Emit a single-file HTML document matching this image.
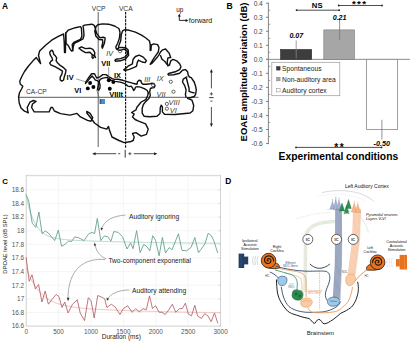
<!DOCTYPE html><html><head><meta charset="utf-8"><style>html,body{margin:0;padding:0;background:#fff;}svg{display:block;}text{font-family:"Liberation Sans", sans-serif;}</style></head><body>
<svg width="410" height="343" viewBox="0 0 410 343">
<rect width="410" height="343" fill="#fff"/>
<text x="2.0" y="8.8" font-size="8.4" fill="#000" font-weight="bold" text-anchor="start" font-style="normal" >A</text>
<line x1="98.2" y1="12" x2="98.2" y2="147" stroke="#555" stroke-width="0.95"/>
<line x1="125.6" y1="12" x2="125.6" y2="148" stroke="#111" stroke-width="1.15" stroke-dasharray="2.6,1.0"/>
<text x="98.6" y="10.6" font-size="6.7" fill="#333" font-weight="normal" text-anchor="middle" font-style="normal" >VCP</text>
<text x="125.8" y="10.6" font-size="6.7" fill="#333" font-weight="normal" text-anchor="middle" font-style="normal" >VCA</text>
<line x1="18.5" y1="97.3" x2="198.5" y2="97.3" stroke="#555" stroke-width="0.95"/>
<text x="26.0" y="94.4" font-size="6.7" fill="#333" font-weight="normal" text-anchor="start" font-style="normal" >CA-CP</text>
<polyline points="28.1,112.7 24.5,111.2 21.0,108.0 19.2,103.0 18.6,97.0 19.4,93.0 21.8,88.5 22.8,86.2 20.2,84.0 19.8,81.0 21.8,76.5 24.5,71.5 28.5,66.0 33.2,60.6 36.3,57.6 40.6,63.6 38.5,55.5 39.6,51.0 45.6,45.2 51.7,40.2 58.3,36.3 63.6,34.0 64.2,42.0 64.5,52.5 65.4,52.5 65.6,42.0 65.8,33.0 68.2,30.2 75.3,27.7 80.4,26.6 81.4,28.2 81.9,36.3 80.4,39.4 73.8,42.4 72.2,44.5 72.8,50.6 73.3,46.5 74.3,43.5 79.4,40.9 83.0,38.9 84.0,35.3 83.5,29.0 83.0,26.1 84.5,25.1 91.8,24.2 94.3,25.4 95.4,29.0 96.8,33.6 99.9,37.7 103.6,37.2 105.2,38.2 104.4,43.2 102.4,48.2 101.8,46.5 102.8,42.5 102.5,39.7 99.0,39.5 95.8,36.0 94.8,31.0 96.2,26.2 97.8,24.8 102.4,23.9 108.5,24.2 114.6,26.0 118.9,28.5 120.0,32.3 119.4,38.3 117.7,43.2 115.8,46.9 116.4,48.7 118.3,48.7 118.9,45.6 120.7,40.7 121.3,34.6 122.6,30.9 125.0,29.7 129.3,30.3 135.4,32.2 141.6,35.2 145.9,38.0 149.5,41.0 150.2,44.6 150.2,50.5 151.0,50.2 151.3,45.0 153.9,43.9 157.6,44.6 159.0,47.6 158.3,52.0 154.6,57.1 151.0,62.9 150.2,64.4 152.4,62.9 156.8,57.8 159.0,54.9 160.5,52.0 162.7,49.8 165.6,49.0 169.3,53.4 170.7,57.5 167.9,57.9 167.2,62.3 167.9,65.9 169.4,65.2 170.8,60.8 173.0,59.4 176.7,60.8 179.6,63.7 181.0,66.7 179.6,69.6 175.2,71.8 169.4,73.2 167.9,74.0 168.6,75.1 173.7,74.7 179.6,73.2 182.5,70.3 185.4,69.6 187.6,71.8 188.3,75.4 189.5,77.0 191.2,77.6 194.2,82.0 195.6,86.3 196.3,90.0 195.6,94.4 194.2,96.5 191.0,97.5 187.6,98.1" fill="none" stroke="#111" stroke-width="1.4" stroke-linejoin="round" stroke-linecap="round"/>
<polyline points="65.6,33.0 66.1,43.5 68.2,45.5 70.2,49.2 71.6,51.0 72.8,50.6" fill="none" stroke="#111" stroke-width="1.4" stroke-linejoin="round" stroke-linecap="round"/>
<polyline points="186.9,76.9 183.2,79.1 182.5,82.0 184.7,85.6 186.1,90.0 185.4,94.4 186.1,97.3" fill="none" stroke="#111" stroke-width="1.4" stroke-linejoin="round" stroke-linecap="round"/>
<polyline points="186.5,78.5 187.6,82.7 189.1,88.5 189.1,91.4 191.2,92.2 194.2,92.9" fill="none" stroke="#111" stroke-width="1.4" stroke-linejoin="round" stroke-linecap="round"/>
<polyline points="187.6,98.3 192.0,100.2 193.7,105.5 192.9,110.7 190.2,113.0 175.0,114.5 164.5,114.2 162.4,111.9 162.4,107.0 161.2,105.2 160.3,107.5 160.0,113.5 157.0,116.2 149.5,116.8 144.0,116.2 142.2,113.1 142.2,108.2 143.4,104.5 145.8,101.4 148.9,98.4 150.3,95.5 149.7,91.5 150.2,89.1 151.2,88.1" fill="none" stroke="#111" stroke-width="1.4" stroke-linejoin="round" stroke-linecap="round"/>
<polyline points="28.1,112.7 27.2,107.5 29.9,102.2 33.4,100.5 36.0,101.4 32.5,104.0 31.6,107.5 34.2,111.9 49.1,111.9 50.9,107.5 52.5,107.5 54.4,111.0 60.5,113.6 70.0,115.1 77.0,113.4 80.5,116.9 87.5,120.4 91.0,121.2 92.7,117.7 90.1,113.4 86.8,111.4 86.8,113.0 90.5,117.5 94.5,123.0 100.6,127.4 106.7,129.1 108.5,126.5 109.4,130.0 112.0,137.0 119.0,140.5 124.2,142.6 130.0,141.8 133.2,140.5 134.2,137.0 132.5,133.5 136.0,132.6 141.2,136.1 146.5,134.4 148.2,129.1 145.6,123.9 138.6,121.2 135.1,119.5 132.5,116.9 134.2,114.2 131.6,112.5 136.0,109.9 136.9,107.2 141.2,102.0 145.8,99.6 147.5,96.0 148.3,93.0" fill="none" stroke="#111" stroke-width="1.4" stroke-linejoin="round" stroke-linecap="round"/>
<polyline points="85.6,82.3 89.0,77.2 91.6,73.8 94.5,73.8 96.7,78.0 99.3,77.2 102.7,74.6 106.1,74.6 109.5,77.2 112.2,78.7 114.9,79.4 118.0,79.3 122.9,80.3 127.8,81.8 132.6,83.2 137.0,84.2 137.5,81.8 139.0,80.3 140.9,80.8 141.4,82.7 142.9,84.2 146.3,84.2 150.2,83.7 152.1,83.2 154.1,83.7 155.1,85.7 154.1,87.6 151.2,88.1" fill="none" stroke="#111" stroke-width="1.4" stroke-linejoin="round" stroke-linecap="round"/>
<polyline points="85.4,83.4 87.4,81.4 90.1,78.1 92.1,76.0 93.4,77.4 95.4,80.1 97.4,80.7 99.5,82.8 100.1,85.4 99.9,88.1 98.8,90.1 97.4,89.5 98.1,86.8 98.5,83.5 100.1,79.4 102.8,78.1 106.8,77.4 108.8,78.7 110.9,80.1 114.9,81.4 120.2,82.1 121.9,82.7 125.8,84.2 127.8,86.1 129.7,86.6 131.2,86.1 132.6,88.1 133.6,90.5 134.6,89.6 135.6,87.1 137.5,86.6 140.4,87.1 144.3,88.6 147.3,90.5 148.3,93.0" fill="none" stroke="#111" stroke-width="1.4" stroke-linejoin="round" stroke-linecap="round"/>
<polyline points="50.2,51.4 52.0,50.2 53.2,52.0 53.7,54.3 55.5,56.1 56.7,57.8 56.1,60.7 57.2,62.5 60.2,65.4 63.6,67.7 66.0,70.1 65.4,73.6 64.2,77.1 63.6,80.0 61.9,81.1 60.2,80.0 60.2,77.1 61.9,74.1 62.5,71.2 59.0,68.9 54.9,66.6 50.8,64.8 49.7,63.1 50.8,61.3 52.6,60.2 52.0,57.8 50.2,54.9 49.7,52.6 50.2,51.4" fill="none" stroke="#111" stroke-width="1.4" stroke-linejoin="round" stroke-linecap="round"/>
<polyline points="79.0,48.2 81.5,46.8 85.5,48.6 89.9,48.2 92.9,49.4 94.8,52.7 94.4,56.3 92.9,58.4 92.0,57.4 92.3,54.8 91.2,53.4 89.9,52.2 85.5,52.6 82.0,50.6 79.0,48.2" fill="none" stroke="#111" stroke-width="1.4" stroke-linejoin="round" stroke-linecap="round"/>
<polyline points="92.4,55.0 94.5,55.5 95.5,57.5" fill="none" stroke="#111" stroke-width="1.4" stroke-linejoin="round" stroke-linecap="round"/>
<polyline points="116.4,48.7 118.0,50.0 120.4,50.4 124.0,49.2 126.8,50.8 127.4,54.2 125.2,56.8 120.4,58.6 116.0,59.3 114.8,60.2 115.6,61.3 120.4,60.8 125.4,59.0 128.6,55.4 128.2,50.0 125.5,47.6 121.5,47.4 119.0,47.6" fill="none" stroke="#111" stroke-width="1.4" stroke-linejoin="round" stroke-linecap="round"/>
<polyline points="123.8,69.9 128.1,66.2 132.4,63.8 133.0,59.5 135.4,56.5 139.1,55.2 143.3,57.1 146.4,60.7 145.2,62.6 142.1,62.0 138.5,60.1 137.2,62.6 136.6,66.2 134.2,67.4 129.3,69.3 125.0,70.5 123.8,69.9" fill="none" stroke="#111" stroke-width="1.4" stroke-linejoin="round" stroke-linecap="round"/>
<polyline points="160.5,55.6 162.0,59.3 164.9,61.5 166.4,63.7 167.8,65.1" fill="none" stroke="#111" stroke-width="1.4" stroke-linejoin="round" stroke-linecap="round"/>
<text x="66.6" y="79.9" font-size="7.4" fill="#000" font-weight="bold" text-anchor="start" font-style="normal" >IV</text>
<text x="101.3" y="65.8" font-size="7.4" fill="#000" font-weight="bold" text-anchor="start" font-style="normal" >VII</text>
<text x="113.9" y="77.6" font-size="7.4" fill="#000" font-weight="bold" text-anchor="start" font-style="normal" >IX</text>
<text x="74.3" y="92.8" font-size="7.4" fill="#000" font-weight="bold" text-anchor="start" font-style="normal" >VI</text>
<text x="109.2" y="96.9" font-size="7.6" fill="#000" font-weight="bold" text-anchor="start" font-style="normal" >VIIIt</text>
<text x="99.2" y="103.9" font-size="6.8" fill="#000" font-weight="bold" text-anchor="start" font-style="normal" >III</text>
<line x1="76.2" y1="78.9" x2="85.6" y2="81.8" stroke="#555" stroke-width="0.6"/>
<line x1="108.7" y1="67.2" x2="108.7" y2="79" stroke="#555" stroke-width="0.6"/>
<line x1="96.7" y1="90" x2="99.3" y2="98.3" stroke="#555" stroke-width="0.6"/>
<circle cx="90.1" cy="83" r="1.95" fill="#000"/>
<circle cx="87.8" cy="88.4" r="1.95" fill="#000"/>
<circle cx="93.4" cy="87" r="1.95" fill="#000"/>
<circle cx="108.8" cy="80.3" r="1.95" fill="#000"/>
<circle cx="113.3" cy="82.1" r="1.95" fill="#000"/>
<circle cx="109.8" cy="88.8" r="1.95" fill="#000"/>
<text x="106.3" y="55.6" font-size="7.3" fill="#3a3a3a" font-weight="normal" text-anchor="start" font-style="italic" >IV</text>
<text x="144.2" y="81.8" font-size="7.4" fill="#3a3a3a" font-weight="normal" text-anchor="start" font-style="italic" >III</text>
<text x="156.8" y="80.5" font-size="7.4" fill="#3a3a3a" font-weight="normal" text-anchor="start" font-style="italic" >IX</text>
<text x="156.6" y="96.9" font-size="7.4" fill="#3a3a3a" font-weight="normal" text-anchor="start" font-style="italic" >VII</text>
<text x="168.6" y="105.2" font-size="7.4" fill="#3a3a3a" font-weight="normal" text-anchor="start" font-style="italic" >VIII</text>
<text x="169.8" y="113.3" font-size="7.4" fill="#3a3a3a" font-weight="normal" text-anchor="start" font-style="italic" >VI</text>
<circle cx="120.1" cy="51.2" r="1.6" fill="none" stroke="#444" stroke-width="0.8"/>
<circle cx="153.1" cy="85.1" r="1.6" fill="none" stroke="#444" stroke-width="0.8"/>
<circle cx="170.8" cy="81.8" r="1.6" fill="none" stroke="#444" stroke-width="0.8"/>
<circle cx="173.5" cy="91.7" r="1.6" fill="none" stroke="#444" stroke-width="0.8"/>
<circle cx="166.9" cy="103.9" r="1.6" fill="none" stroke="#444" stroke-width="0.8"/>
<circle cx="166.9" cy="108.7" r="1.6" fill="none" stroke="#444" stroke-width="0.8"/>
<line x1="93.5" y1="153.7" x2="116.2" y2="153.7" stroke="#222" stroke-width="0.8"/>
<path d="M92.2,153.7 L95.6,152.2 L95.6,155.2 Z" fill="#222"/>
<line x1="118.2" y1="153.7" x2="120.2" y2="153.7" stroke="#222" stroke-width="0.8"/>
<line x1="125.2" y1="149.8" x2="125.2" y2="157.6" stroke="#222" stroke-width="0.9"/>
<line x1="128.3" y1="153.7" x2="131.5" y2="153.7" stroke="#222" stroke-width="0.7"/>
<line x1="129.9" y1="152.1" x2="129.9" y2="155.3" stroke="#222" stroke-width="0.7"/>
<line x1="133.8" y1="153.7" x2="156" y2="153.7" stroke="#222" stroke-width="0.8"/>
<path d="M157.4,153.7 L154,152.2 L154,155.2 Z" fill="#222"/>
<line x1="211.4" y1="70.5" x2="211.4" y2="88.4" stroke="#222" stroke-width="0.8"/>
<path d="M211.4,69 L209.9,72.4 L212.9,72.4 Z" fill="#222"/>
<line x1="209.8" y1="93.9" x2="213" y2="93.9" stroke="#222" stroke-width="0.7"/>
<line x1="211.4" y1="92.3" x2="211.4" y2="95.5" stroke="#222" stroke-width="0.7"/>
<line x1="209.2" y1="97.6" x2="213.6" y2="97.6" stroke="#222" stroke-width="0.9"/>
<line x1="210.2" y1="101.1" x2="212.6" y2="101.1" stroke="#222" stroke-width="0.7"/>
<line x1="211.4" y1="107" x2="211.4" y2="125.5" stroke="#222" stroke-width="0.8"/>
<path d="M211.4,127 L209.9,123.6 L212.9,123.6 Z" fill="#222"/>
<text x="176.3" y="11.8" font-size="6.4" fill="#111" font-weight="normal" text-anchor="start" font-style="normal" >up</text>
<polyline points="179.3,15.8 179.3,20.4 186.6,20.4" fill="none" stroke="#111" stroke-width="0.9"/>
<path d="M179.3,13.8 L177.8,16.6 L180.8,16.6 Z" fill="#111"/>
<path d="M188.4,20.4 L185.6,18.9 L185.6,21.9 Z" fill="#111"/>
<text x="188.8" y="23.0" font-size="7.0" fill="#111" font-weight="normal" text-anchor="start" font-style="normal" >forward</text>
<text x="226.6" y="8.9" font-size="8.6" fill="#000" font-weight="bold" text-anchor="start" font-style="normal" >B</text>
<line x1="268.4" y1="2.629999999999997" x2="268.4" y2="144.13" stroke="#666" stroke-width="0.8"/>
<line x1="266.0" y1="143.53" x2="268.4" y2="143.53" stroke="#666" stroke-width="0.8"/>
<line x1="268.4" y1="136.51" x2="270.29999999999995" y2="136.51" stroke="#777" stroke-width="0.7"/>
<text x="262.8" y="145.88" font-size="6.6" fill="#444" font-weight="normal" text-anchor="end" font-style="normal" >-0.6</text>
<line x1="266.0" y1="129.50" x2="268.4" y2="129.50" stroke="#666" stroke-width="0.8"/>
<line x1="268.4" y1="122.49" x2="270.29999999999995" y2="122.49" stroke="#777" stroke-width="0.7"/>
<text x="262.8" y="131.85" font-size="6.6" fill="#444" font-weight="normal" text-anchor="end" font-style="normal" >-0.5</text>
<line x1="266.0" y1="115.47" x2="268.4" y2="115.47" stroke="#666" stroke-width="0.8"/>
<line x1="268.4" y1="108.46" x2="270.29999999999995" y2="108.46" stroke="#777" stroke-width="0.7"/>
<text x="262.8" y="117.82" font-size="6.6" fill="#444" font-weight="normal" text-anchor="end" font-style="normal" >-0.4</text>
<line x1="266.0" y1="101.44" x2="268.4" y2="101.44" stroke="#666" stroke-width="0.8"/>
<line x1="268.4" y1="94.43" x2="270.29999999999995" y2="94.43" stroke="#777" stroke-width="0.7"/>
<text x="262.8" y="103.78999999999999" font-size="6.6" fill="#444" font-weight="normal" text-anchor="end" font-style="normal" >-0.3</text>
<line x1="266.0" y1="87.41" x2="268.4" y2="87.41" stroke="#666" stroke-width="0.8"/>
<line x1="268.4" y1="80.40" x2="270.29999999999995" y2="80.40" stroke="#777" stroke-width="0.7"/>
<text x="262.8" y="89.75999999999999" font-size="6.6" fill="#444" font-weight="normal" text-anchor="end" font-style="normal" >-0.2</text>
<line x1="266.0" y1="73.38" x2="268.4" y2="73.38" stroke="#666" stroke-width="0.8"/>
<line x1="268.4" y1="66.37" x2="270.29999999999995" y2="66.37" stroke="#777" stroke-width="0.7"/>
<text x="262.8" y="75.72999999999999" font-size="6.6" fill="#444" font-weight="normal" text-anchor="end" font-style="normal" >-0.1</text>
<line x1="266.0" y1="59.35" x2="268.4" y2="59.35" stroke="#666" stroke-width="0.8"/>
<line x1="268.4" y1="52.34" x2="270.29999999999995" y2="52.34" stroke="#777" stroke-width="0.7"/>
<text x="262.8" y="61.7" font-size="6.6" fill="#444" font-weight="normal" text-anchor="end" font-style="normal" >0.0</text>
<line x1="266.0" y1="45.32" x2="268.4" y2="45.32" stroke="#666" stroke-width="0.8"/>
<line x1="268.4" y1="38.30" x2="270.29999999999995" y2="38.30" stroke="#777" stroke-width="0.7"/>
<text x="262.8" y="47.67" font-size="6.6" fill="#444" font-weight="normal" text-anchor="end" font-style="normal" >0.1</text>
<line x1="266.0" y1="31.29" x2="268.4" y2="31.29" stroke="#666" stroke-width="0.8"/>
<line x1="268.4" y1="24.27" x2="270.29999999999995" y2="24.27" stroke="#777" stroke-width="0.7"/>
<text x="262.8" y="33.64" font-size="6.6" fill="#444" font-weight="normal" text-anchor="end" font-style="normal" >0.2</text>
<line x1="266.0" y1="17.26" x2="268.4" y2="17.26" stroke="#666" stroke-width="0.8"/>
<line x1="268.4" y1="10.24" x2="270.29999999999995" y2="10.24" stroke="#777" stroke-width="0.7"/>
<text x="262.8" y="19.61" font-size="6.6" fill="#444" font-weight="normal" text-anchor="end" font-style="normal" >0.3</text>
<line x1="266.0" y1="3.23" x2="268.4" y2="3.23" stroke="#666" stroke-width="0.8"/>
<text x="262.8" y="5.5799999999999965" font-size="6.6" fill="#444" font-weight="normal" text-anchor="end" font-style="normal" >0.4</text>
<line x1="266.0" y1="59.35" x2="410" y2="59.35" stroke="#808080" stroke-width="0.9"/>
<rect x="280.6" y="49.53" width="31" height="9.82" fill="#3d3d3d" stroke="#222" stroke-width="0.6"/>
<rect x="323.8" y="29.89" width="30.7" height="29.46" fill="#a6a6a6" stroke="#7a7a7a" stroke-width="0.6"/>
<rect x="366.6" y="59.35" width="31" height="70.15" fill="#fff" stroke="#888" stroke-width="0.8"/>
<line x1="296.2" y1="40.5" x2="296.2" y2="58.5" stroke="#888" stroke-width="0.8"/>
<line x1="339.6" y1="19.6" x2="339.6" y2="39.9" stroke="#777" stroke-width="0.8"/>
<line x1="381.9" y1="119.8" x2="381.9" y2="139.5" stroke="#777" stroke-width="0.8"/>
<text x="296.3" y="38.2" font-size="7.1" fill="#000" font-weight="bold" text-anchor="middle" font-style="italic" >0.07</text>
<text x="339.6" y="19.6" font-size="7.1" fill="#000" font-weight="bold" text-anchor="middle" font-style="italic" >0.21</text>
<text x="381.8" y="145.8" font-size="7.2" fill="#000" font-weight="bold" text-anchor="middle" font-style="italic" >-0.50</text>
<rect x="271.8" y="62.3" width="68" height="33.4" fill="#fff" stroke="#999" stroke-width="0.7"/>
<rect x="276.5" y="66.5" width="3.6" height="3.6" fill="#3d3d3d" stroke="#222" stroke-width="0.4"/>
<rect x="276.5" y="77.3" width="3.6" height="3.6" fill="#a6a6a6" stroke="#777" stroke-width="0.4"/>
<rect x="276.5" y="88.3" width="3.6" height="3.6" fill="#fff" stroke="#888" stroke-width="0.5"/>
<text x="282.1" y="70.9" font-size="6.7" fill="#222" font-weight="normal" text-anchor="start" font-style="normal" >Spontaneous</text>
<text x="282.1" y="81.6" font-size="6.7" fill="#222" font-weight="normal" text-anchor="start" font-style="normal" >Non-auditory area</text>
<text x="282.1" y="92.6" font-size="6.7" fill="#222" font-weight="normal" text-anchor="start" font-style="normal" >Auditory cortex</text>
<line x1="296.6" y1="10.2" x2="339.2" y2="10.2" stroke="#222" stroke-width="0.8"/>
<circle cx="296.6" cy="10.2" r="0.9" fill="#222"/>
<circle cx="339.2" cy="10.2" r="0.9" fill="#222"/>
<text x="317.2" y="7.6" font-size="7.7" fill="#000" font-weight="bold" text-anchor="middle" font-style="normal" >NS</text>
<line x1="338.7" y1="5.5" x2="382" y2="5.5" stroke="#222" stroke-width="0.8"/>
<circle cx="338.7" cy="5.5" r="0.9" fill="#222"/>
<circle cx="382" cy="5.5" r="0.9" fill="#222"/>
<text x="352.0" y="7.2" font-size="9.7" fill="#000" font-weight="bold" text-anchor="start" font-style="normal" letter-spacing="1.3">***</text>
<line x1="296" y1="147.4" x2="381.5" y2="147.4" stroke="#222" stroke-width="0.8"/>
<circle cx="296" cy="147.4" r="0.9" fill="#222"/>
<circle cx="381.5" cy="147.4" r="0.9" fill="#222"/>
<text x="334.3" y="150.6" font-size="10.2" fill="#000" font-weight="bold" text-anchor="start" font-style="normal" letter-spacing="1.4">**</text>
<text x="0" y="0" font-size="9.55" font-weight="bold" fill="#000" text-anchor="middle" transform="translate(247.1,72) rotate(-90)">EOAE amplitude variation (dB)</text>
<text x="338.4" y="160.3" font-size="10.3" fill="#000" font-weight="bold" text-anchor="middle" font-style="normal" >Experimental conditions</text>
<text x="2.2" y="183.6" font-size="7.8" fill="#000" font-weight="bold" text-anchor="start" font-style="normal" >C</text>
<line x1="26.20" y1="175.3" x2="26.20" y2="326.1" stroke="#f0f0f0" stroke-width="0.7"/>
<line x1="58.60" y1="175.3" x2="58.60" y2="326.1" stroke="#f0f0f0" stroke-width="0.7"/>
<line x1="91.00" y1="175.3" x2="91.00" y2="326.1" stroke="#f0f0f0" stroke-width="0.7"/>
<line x1="123.40" y1="175.3" x2="123.40" y2="326.1" stroke="#f0f0f0" stroke-width="0.7"/>
<line x1="155.80" y1="175.3" x2="155.80" y2="326.1" stroke="#f0f0f0" stroke-width="0.7"/>
<line x1="188.20" y1="175.3" x2="188.20" y2="326.1" stroke="#f0f0f0" stroke-width="0.7"/>
<line x1="220.60" y1="175.3" x2="220.60" y2="326.1" stroke="#f0f0f0" stroke-width="0.7"/>
<line x1="26.2" y1="326.10" x2="220.6" y2="326.10" stroke="#f0f0f0" stroke-width="0.7"/>
<line x1="26.2" y1="312.48" x2="220.6" y2="312.48" stroke="#f0f0f0" stroke-width="0.7"/>
<line x1="26.2" y1="298.86" x2="220.6" y2="298.86" stroke="#f0f0f0" stroke-width="0.7"/>
<line x1="26.2" y1="285.24" x2="220.6" y2="285.24" stroke="#f0f0f0" stroke-width="0.7"/>
<line x1="26.2" y1="271.62" x2="220.6" y2="271.62" stroke="#f0f0f0" stroke-width="0.7"/>
<line x1="26.2" y1="258.00" x2="220.6" y2="258.00" stroke="#f0f0f0" stroke-width="0.7"/>
<line x1="26.2" y1="244.38" x2="220.6" y2="244.38" stroke="#f0f0f0" stroke-width="0.7"/>
<line x1="26.2" y1="230.76" x2="220.6" y2="230.76" stroke="#f0f0f0" stroke-width="0.7"/>
<line x1="26.2" y1="217.14" x2="220.6" y2="217.14" stroke="#f0f0f0" stroke-width="0.7"/>
<line x1="26.2" y1="203.52" x2="220.6" y2="203.52" stroke="#f0f0f0" stroke-width="0.7"/>
<line x1="26.2" y1="189.90" x2="220.6" y2="189.90" stroke="#f0f0f0" stroke-width="0.7"/>
<line x1="26.2" y1="176.28" x2="220.6" y2="176.28" stroke="#f0f0f0" stroke-width="0.7"/>
<rect x="26.2" y="175.3" width="194.4" height="150.8" fill="none" stroke="#ccc" stroke-width="0.8"/>
<text x="24.2" y="328.40000000000003" font-size="6.4" fill="#555" font-weight="normal" text-anchor="end" font-style="normal" >16.6</text>
<line x1="218.79999999999998" y1="326.10" x2="220.6" y2="326.10" stroke="#bbb" stroke-width="0.6"/>
<text x="24.2" y="314.7800000000001" font-size="6.4" fill="#555" font-weight="normal" text-anchor="end" font-style="normal" >16.8</text>
<line x1="218.79999999999998" y1="312.48" x2="220.6" y2="312.48" stroke="#bbb" stroke-width="0.6"/>
<text x="24.2" y="301.16000000000014" font-size="6.4" fill="#555" font-weight="normal" text-anchor="end" font-style="normal" >17</text>
<line x1="218.79999999999998" y1="298.86" x2="220.6" y2="298.86" stroke="#bbb" stroke-width="0.6"/>
<text x="24.2" y="287.53999999999996" font-size="6.4" fill="#555" font-weight="normal" text-anchor="end" font-style="normal" >17.2</text>
<line x1="218.79999999999998" y1="285.24" x2="220.6" y2="285.24" stroke="#bbb" stroke-width="0.6"/>
<text x="24.2" y="273.92" font-size="6.4" fill="#555" font-weight="normal" text-anchor="end" font-style="normal" >17.4</text>
<line x1="218.79999999999998" y1="271.62" x2="220.6" y2="271.62" stroke="#bbb" stroke-width="0.6"/>
<text x="24.2" y="260.3" font-size="6.4" fill="#555" font-weight="normal" text-anchor="end" font-style="normal" >17.6</text>
<line x1="218.79999999999998" y1="258.00" x2="220.6" y2="258.00" stroke="#bbb" stroke-width="0.6"/>
<text x="24.2" y="246.6800000000001" font-size="6.4" fill="#555" font-weight="normal" text-anchor="end" font-style="normal" >17.8</text>
<line x1="218.79999999999998" y1="244.38" x2="220.6" y2="244.38" stroke="#bbb" stroke-width="0.6"/>
<text x="24.2" y="233.06000000000012" font-size="6.4" fill="#555" font-weight="normal" text-anchor="end" font-style="normal" >18</text>
<line x1="218.79999999999998" y1="230.76" x2="220.6" y2="230.76" stroke="#bbb" stroke-width="0.6"/>
<text x="24.2" y="219.43999999999994" font-size="6.4" fill="#555" font-weight="normal" text-anchor="end" font-style="normal" >18.2</text>
<line x1="218.79999999999998" y1="217.14" x2="220.6" y2="217.14" stroke="#bbb" stroke-width="0.6"/>
<text x="24.2" y="205.82" font-size="6.4" fill="#555" font-weight="normal" text-anchor="end" font-style="normal" >18.4</text>
<line x1="218.79999999999998" y1="203.52" x2="220.6" y2="203.52" stroke="#bbb" stroke-width="0.6"/>
<text x="24.2" y="192.20000000000005" font-size="6.4" fill="#555" font-weight="normal" text-anchor="end" font-style="normal" >18.6</text>
<line x1="218.79999999999998" y1="189.90" x2="220.6" y2="189.90" stroke="#bbb" stroke-width="0.6"/>
<text x="26.2" y="333.6" font-size="6.4" fill="#555" font-weight="normal" text-anchor="middle" font-style="normal" >0</text>
<text x="58.599999999999994" y="333.6" font-size="6.4" fill="#555" font-weight="normal" text-anchor="middle" font-style="normal" >500</text>
<text x="91.0" y="333.6" font-size="6.4" fill="#555" font-weight="normal" text-anchor="middle" font-style="normal" >1000</text>
<text x="123.4" y="333.6" font-size="6.4" fill="#555" font-weight="normal" text-anchor="middle" font-style="normal" >1500</text>
<text x="155.79999999999998" y="333.6" font-size="6.4" fill="#555" font-weight="normal" text-anchor="middle" font-style="normal" >2000</text>
<text x="188.2" y="333.6" font-size="6.4" fill="#555" font-weight="normal" text-anchor="middle" font-style="normal" >2500</text>
<text x="220.6" y="333.6" font-size="6.4" fill="#555" font-weight="normal" text-anchor="middle" font-style="normal" >3000</text>
<text x="121.3" y="339.3" font-size="6.45" fill="#222" font-weight="normal" text-anchor="middle" font-style="normal" >Duration (ms)</text>
<text x="0" y="0" font-size="5.85" fill="#222" text-anchor="middle" transform="translate(6.6,244) rotate(-90)">DPOAE level (dB SPL)</text>
<polyline points="26.2,195.3 26.8,198.5 27.5,201.5 28.1,204.2 28.8,206.7 29.4,209.1 30.1,211.3 30.7,213.3 31.4,215.1 32.0,216.9 32.7,218.5 33.3,220.0 34.0,221.4 34.6,222.7 35.3,223.9 35.9,225.0 36.6,226.0 37.2,227.0 37.9,227.9 38.5,228.7 39.2,229.4 39.8,230.2 40.5,230.8 41.1,231.4 41.8,232.0 42.4,232.6 43.0,233.0 43.7,233.5 44.3,233.9 45.0,234.3 45.6,234.7 46.3,235.1 46.9,235.4 47.6,235.7 48.2,236.0 48.9,236.3 49.5,236.5 50.2,236.7 50.8,237.0 51.5,237.2 52.1,237.4 52.8,237.5 53.4,237.7 54.1,237.9 54.7,238.0 55.4,238.2 56.0,238.3 56.7,238.4 57.3,238.5 58.0,238.7 58.6,238.8 59.2,238.9 59.9,239.0 60.5,239.0 61.2,239.1 61.8,239.2 62.5,239.3 63.1,239.4 63.8,239.4 64.4,239.5 65.1,239.6 65.7,239.6 66.4,239.7 67.0,239.7 67.7,239.8 68.3,239.8 69.0,239.9 69.6,239.9 70.3,240.0 70.9,240.0 71.6,240.1 72.2,240.1 72.9,240.2 73.5,240.2 74.2,240.2 74.8,240.3 75.4,240.3 76.1,240.4 76.7,240.4 77.4,240.4 78.0,240.5 78.7,240.5 79.3,240.5 80.0,240.6 80.6,240.6 81.3,240.6 81.9,240.6 82.6,240.7 83.2,240.7 83.9,240.7 84.5,240.8 85.2,240.8 85.8,240.8 86.5,240.8 87.1,240.9 87.8,240.9 88.4,240.9 89.1,240.9 89.7,241.0 90.4,241.0 91.0,241.0 91.6,241.0 92.3,241.1 92.9,241.1 93.6,241.1 94.2,241.1 94.9,241.2 95.5,241.2 96.2,241.2 96.8,241.2 97.5,241.2 98.1,241.3 98.8,241.3 99.4,241.3 100.1,241.3 100.7,241.3 101.4,241.4 102.0,241.4 102.7,241.4 103.3,241.4 104.0,241.4 104.6,241.5 105.3,241.5 105.9,241.5 106.6,241.5 107.2,241.5 107.8,241.6 108.5,241.6 109.1,241.6 109.8,241.6 110.4,241.6 111.1,241.6 111.7,241.7 112.4,241.7 113.0,241.7 113.7,241.7 114.3,241.7 115.0,241.7 115.6,241.8 116.3,241.8 116.9,241.8 117.6,241.8 118.2,241.8 118.9,241.8 119.5,241.9 120.2,241.9 120.8,241.9 121.5,241.9 122.1,241.9 122.8,241.9 123.4,241.9 124.0,242.0 124.7,242.0 125.3,242.0 126.0,242.0 126.6,242.0 127.3,242.0 127.9,242.0 128.6,242.1 129.2,242.1 129.9,242.1 130.5,242.1 131.2,242.1 131.8,242.1 132.5,242.1 133.1,242.1 133.8,242.2 134.4,242.2 135.1,242.2 135.7,242.2 136.4,242.2 137.0,242.2 137.7,242.2 138.3,242.2 139.0,242.3 139.6,242.3 140.2,242.3 140.9,242.3 141.5,242.3 142.2,242.3 142.8,242.3 143.5,242.3 144.1,242.4 144.8,242.4 145.4,242.4 146.1,242.4 146.7,242.4 147.4,242.4 148.0,242.4 148.7,242.4 149.3,242.4 150.0,242.5 150.6,242.5 151.3,242.5 151.9,242.5 152.6,242.5 153.2,242.5 153.9,242.5 154.5,242.5 155.2,242.5 155.8,242.5 156.4,242.6 157.1,242.6 157.7,242.6 158.4,242.6 159.0,242.6 159.7,242.6 160.3,242.6 161.0,242.6 161.6,242.6 162.3,242.6 162.9,242.6 163.6,242.7 164.2,242.7 164.9,242.7 165.5,242.7 166.2,242.7 166.8,242.7 167.5,242.7 168.1,242.7 168.8,242.7 169.4,242.7 170.1,242.7 170.7,242.7 171.4,242.8 172.0,242.8 172.6,242.8 173.3,242.8 173.9,242.8 174.6,242.8 175.2,242.8 175.9,242.8 176.5,242.8 177.2,242.8 177.8,242.8 178.5,242.8 179.1,242.8 179.8,242.8 180.4,242.9 181.1,242.9 181.7,242.9 182.4,242.9 183.0,242.9 183.7,242.9 184.3,242.9 185.0,242.9 185.6,242.9 186.3,242.9 186.9,242.9 187.6,242.9 188.2,242.9 188.8,242.9 189.5,242.9 190.1,243.0 190.8,243.0 191.4,243.0 192.1,243.0 192.7,243.0 193.4,243.0 194.0,243.0 194.7,243.0 195.3,243.0 196.0,243.0 196.6,243.0 197.3,243.0 197.9,243.0 198.6,243.0 199.2,243.0 199.9,243.0 200.5,243.0 201.2,243.1 201.8,243.1 202.5,243.1 203.1,243.1 203.8,243.1 204.4,243.1 205.0,243.1 205.7,243.1 206.3,243.1 207.0,243.1 207.6,243.1 208.3,243.1 208.9,243.1 209.6,243.1 210.2,243.1 210.9,243.1 211.5,243.1 212.2,243.1 212.8,243.1 213.5,243.1 214.1,243.2 214.8,243.2 215.4,243.2 216.1,243.2 216.7,243.2 217.4,243.2 218.0,243.2 218.7,243.2 219.3,243.2 220.0,243.2 220.6,243.2" fill="none" stroke="#a9d3bf" stroke-width="0.9"/>
<polyline points="25.9,194.4 28.8,201.1 32.2,223.2 35.8,227.4 38.9,212.0 42.1,233.7 45.2,231.0 48.4,233.0 51.5,236.9 54.7,240.6 58.3,230.1 61.6,246.3 65.2,244.2 68.8,241.0 71.5,241.5 74.7,236.9 78.9,237.9 84.1,240.6 87.3,235.8 88.5,234.1 92.0,232.4 94.6,233.6 97.3,218.4 100.8,240.6 104.3,235.9 107.8,236.8 110.9,241.1 113.9,231.5 118.3,232.4 122.6,236.8 127.0,249.0 130.5,242.9 133.1,248.7 136.6,230.6 140.1,252.5 143.6,244.6 146.3,245.9 149.8,250.8 152.7,235.7 155.5,240.2 159.1,255.8 162.4,237.5 165.5,253.0 169.2,247.6 172.0,249.8 178.4,233.8 182.0,250.3 186.6,250.9 191.2,247.2 194.8,237.5 198.5,252.7 202.1,247.9 204.9,243.9 208.2,233.3 211.3,235.7 214.0,241.2 217.7,253.0" fill="none" stroke="#5f9d85" stroke-width="0.85" stroke-linejoin="round"/>
<polyline points="26.2,268.1 26.8,269.8 27.5,271.4 28.1,273.0 28.8,274.5 29.4,275.9 30.1,277.3 30.7,278.6 31.4,279.9 32.0,281.1 32.7,282.2 33.3,283.3 34.0,284.4 34.6,285.4 35.3,286.4 35.9,287.3 36.6,288.2 37.2,289.0 37.9,289.8 38.5,290.6 39.2,291.4 39.8,292.1 40.5,292.8 41.1,293.4 41.8,294.1 42.4,294.7 43.0,295.2 43.7,295.8 44.3,296.3 45.0,296.8 45.6,297.3 46.3,297.8 46.9,298.2 47.6,298.7 48.2,299.1 48.9,299.5 49.5,299.8 50.2,300.2 50.8,300.6 51.5,300.9 52.1,301.2 52.8,301.5 53.4,301.8 54.1,302.1 54.7,302.4 55.4,302.6 56.0,302.9 56.7,303.1 57.3,303.4 58.0,303.6 58.6,303.8 59.2,304.0 59.9,304.2 60.5,304.4 61.2,304.6 61.8,304.8 62.5,305.0 63.1,305.1 63.8,305.3 64.4,305.4 65.1,305.6 65.7,305.7 66.4,305.9 67.0,306.0 67.7,306.1 68.3,306.3 69.0,306.4 69.6,306.5 70.3,306.6 70.9,306.7 71.6,306.8 72.2,306.9 72.9,307.0 73.5,307.1 74.2,307.2 74.8,307.3 75.4,307.4 76.1,307.5 76.7,307.6 77.4,307.6 78.0,307.7 78.7,307.8 79.3,307.9 80.0,307.9 80.6,308.0 81.3,308.1 81.9,308.1 82.6,308.2 83.2,308.3 83.9,308.3 84.5,308.4 85.2,308.4 85.8,308.5 86.5,308.6 87.1,308.6 87.8,308.7 88.4,308.7 89.1,308.8 89.7,308.8 90.4,308.9 91.0,308.9 91.6,309.0 92.3,309.0 92.9,309.0 93.6,309.1 94.2,309.1 94.9,309.2 95.5,309.2 96.2,309.3 96.8,309.3 97.5,309.3 98.1,309.4 98.8,309.4 99.4,309.4 100.1,309.5 100.7,309.5 101.4,309.5 102.0,309.6 102.7,309.6 103.3,309.6 104.0,309.7 104.6,309.7 105.3,309.7 105.9,309.8 106.6,309.8 107.2,309.8 107.8,309.9 108.5,309.9 109.1,309.9 109.8,310.0 110.4,310.0 111.1,310.0 111.7,310.0 112.4,310.1 113.0,310.1 113.7,310.1 114.3,310.2 115.0,310.2 115.6,310.2 116.3,310.2 116.9,310.3 117.6,310.3 118.2,310.3 118.9,310.3 119.5,310.4 120.2,310.4 120.8,310.4 121.5,310.4 122.1,310.5 122.8,310.5 123.4,310.5 124.0,310.5 124.7,310.5 125.3,310.6 126.0,310.6 126.6,310.6 127.3,310.6 127.9,310.7 128.6,310.7 129.2,310.7 129.9,310.7 130.5,310.7 131.2,310.8 131.8,310.8 132.5,310.8 133.1,310.8 133.8,310.8 134.4,310.9 135.1,310.9 135.7,310.9 136.4,310.9 137.0,310.9 137.7,311.0 138.3,311.0 139.0,311.0 139.6,311.0 140.2,311.0 140.9,311.1 141.5,311.1 142.2,311.1 142.8,311.1 143.5,311.1 144.1,311.2 144.8,311.2 145.4,311.2 146.1,311.2 146.7,311.2 147.4,311.2 148.0,311.3 148.7,311.3 149.3,311.3 150.0,311.3 150.6,311.3 151.3,311.4 151.9,311.4 152.6,311.4 153.2,311.4 153.9,311.4 154.5,311.4 155.2,311.5 155.8,311.5 156.4,311.5 157.1,311.5 157.7,311.5 158.4,311.5 159.0,311.5 159.7,311.6 160.3,311.6 161.0,311.6 161.6,311.6 162.3,311.6 162.9,311.6 163.6,311.7 164.2,311.7 164.9,311.7 165.5,311.7 166.2,311.7 166.8,311.7 167.5,311.7 168.1,311.8 168.8,311.8 169.4,311.8 170.1,311.8 170.7,311.8 171.4,311.8 172.0,311.8 172.6,311.9 173.3,311.9 173.9,311.9 174.6,311.9 175.2,311.9 175.9,311.9 176.5,311.9 177.2,312.0 177.8,312.0 178.5,312.0 179.1,312.0 179.8,312.0 180.4,312.0 181.1,312.0 181.7,312.1 182.4,312.1 183.0,312.1 183.7,312.1 184.3,312.1 185.0,312.1 185.6,312.1 186.3,312.1 186.9,312.2 187.6,312.2 188.2,312.2 188.8,312.2 189.5,312.2 190.1,312.2 190.8,312.2 191.4,312.2 192.1,312.3 192.7,312.3 193.4,312.3 194.0,312.3 194.7,312.3 195.3,312.3 196.0,312.3 196.6,312.3 197.3,312.3 197.9,312.4 198.6,312.4 199.2,312.4 199.9,312.4 200.5,312.4 201.2,312.4 201.8,312.4 202.5,312.4 203.1,312.4 203.8,312.5 204.4,312.5 205.0,312.5 205.7,312.5 206.3,312.5 207.0,312.5 207.6,312.5 208.3,312.5 208.9,312.5 209.6,312.5 210.2,312.6 210.9,312.6 211.5,312.6 212.2,312.6 212.8,312.6 213.5,312.6 214.1,312.6 214.8,312.6 215.4,312.6 216.1,312.6 216.7,312.7 217.4,312.7 218.0,312.7 218.7,312.7 219.3,312.7 220.0,312.7 220.6,312.7" fill="none" stroke="#eab8b0" stroke-width="0.9"/>
<polyline points="26.1,257.2 29.2,281.3 32.0,274.7 35.3,288.9 38.6,284.5 41.9,302.0 45.2,291.1 48.4,304.2 51.7,299.8 56.1,294.4 58.9,296.6 62.0,307.5 64.8,302.0 68.1,313.0 72.5,304.2 77.3,299.8 80.2,313.0 84.5,320.6 88.3,297.7 91.1,300.9 94.2,318.0 97.7,295.5 101.4,297.0 104.7,298.8 106.9,307.5 111.3,304.2 115.2,307.1 120.0,314.5 123.3,308.6 127.7,305.8 132.0,312.3 135.8,308.6 139.3,311.9 143.0,308.6 146.3,309.7 149.5,295.9 152.5,308.6 155.5,305.7 159.2,312.3 162.0,312.3 165.3,314.5 168.6,310.1 172.3,304.2 175.8,312.3 179.5,308.6 182.4,308.6 185.4,303.1 188.3,314.0 191.5,315.8 194.8,305.3 197.7,316.2 201.4,318.4 204.7,313.6 207.9,315.8 211.2,321.7 214.5,313.0 217.8,323.2" fill="none" stroke="#b45e66" stroke-width="0.85" stroke-linejoin="round"/>
<text x="129.1" y="219.1" font-size="6.7" fill="#222" font-weight="normal" text-anchor="start" font-style="normal" >Auditory ignoring</text>
<text x="108.4" y="262.6" font-size="6.6" fill="#222" font-weight="normal" text-anchor="start" font-style="normal" >Two-component exponential</text>
<text x="131.9" y="292.8" font-size="6.75" fill="#222" font-weight="normal" text-anchor="start" font-style="normal" >Auditory attending</text>
<path d="M125.5,215 C112,216 104,221 101.5,229" fill="none" stroke="#777" stroke-width="0.6"/>
<path d="M101.1,230.6 L100.6,227.4 L103.2,228.4 Z" fill="#333"/>
<path d="M106,258.8 C100,256 96,251 95,244.5" fill="none" stroke="#777" stroke-width="0.6"/>
<path d="M94.6,242.6 L93.8,245.8 L96.2,245.4 Z" fill="#333"/>
<path d="M105,259.5 C85,258 68,268 68,299" fill="none" stroke="#777" stroke-width="0.6"/>
<path d="M68.1,301.2 L66.8,297.8 L69.5,297.8 Z" fill="#333"/>
<path d="M129.5,290 C118,290 110,294 107.5,299.5" fill="none" stroke="#777" stroke-width="0.6"/>
<path d="M106.9,300.8 L106.6,297.6 L109.1,298.9 Z" fill="#333"/>
<text x="225.2" y="184.2" font-size="8.4" fill="#000" font-weight="bold" text-anchor="start" font-style="normal" >D</text>
<line x1="230" y1="190" x2="230" y2="326" stroke="#f2f2f2" stroke-width="0.8"/>
<path d="M322,192.6 C335,189.5 352,189.8 364,195 C369,197.5 372,199.5 374,201.5" fill="none" stroke="#d6d6d6" stroke-width="0.9"/>
<path d="M318,196 C333,193 352,193.5 366,201" fill="none" stroke="#f0f0f0" stroke-width="0.7"/>
<path d="M327,209.6 C340,209 350,210.5 356,213 C362,217 366,224 368.5,232.5" fill="none" stroke="#e2e2e2" stroke-width="0.9"/>
<path d="M296,219 C310,214 322,212.5 330,212.5" fill="none" stroke="#ededed" stroke-width="0.8"/>
<text x="344.9" y="187.6" font-size="5.0" fill="#111" font-weight="normal" text-anchor="start" font-style="normal" >Left Auditory Cortex</text>
<text x="366.0" y="215.6" font-size="3.8" fill="#111" font-weight="normal" text-anchor="start" font-style="italic" >Pyramidal neurons</text>
<text x="366.0" y="220.1" font-size="3.8" fill="#111" font-weight="normal" text-anchor="start" font-style="italic" >Layers V-VI</text>
<path d="M305,292 L305.6,238 C307,229 313,224.5 322,222.8 C328,221.8 333,221.6 338,221.4" fill="none" stroke="#f1f3ec" stroke-width="3.2"/>
<path d="M303.8,292 L304.40000000000003,238 C305.8,227.8 311.8,223.3 322,221.60000000000002 C328,220.60000000000002 333,220.4 338,220.20000000000002" fill="none" stroke="#cdd4c0" stroke-width="0.38"/>
<path d="M305,292 L305.6,238 C307,229 313,224.5 322,222.8 C328,221.8 333,221.6 338,221.4" fill="none" stroke="#cdd4c0" stroke-width="0.38"/>
<path d="M306.2,292 L306.8,238 C308.2,230.2 314.2,225.7 322,224.0 C328,223.0 333,222.79999999999998 338,222.6" fill="none" stroke="#cdd4c0" stroke-width="0.38"/>
<path d="M303.5,236 C304,230 309,226 318,224.5" fill="none" stroke="#e0e4d7" stroke-width="0.4"/>
<path d="M335.2,207 L341.8,207 L342.2,240 L342,265 L340.6,300 L332.6,300 L334.6,265 L335,240 Z" fill="#bcc5d8"/>
<path d="M335.8,207 L335.8,240 L335.5,265 L333.4,300" fill="none" stroke="#67789a" stroke-width="0.45"/>
<path d="M336.90000000000003,207 L336.90000000000003,240 L336.6,265 L334.5,300" fill="none" stroke="#67789a" stroke-width="0.45"/>
<path d="M338.0,207 L338.0,240 L337.7,265 L335.59999999999997,300" fill="none" stroke="#67789a" stroke-width="0.45"/>
<path d="M339.1,207 L339.1,240 L338.8,265 L336.7,300" fill="none" stroke="#67789a" stroke-width="0.45"/>
<path d="M340.2,207 L340.2,240 L339.9,265 L337.79999999999995,300" fill="none" stroke="#67789a" stroke-width="0.45"/>
<path d="M341.3,207 L341.3,240 L341.0,265 L338.9,300" fill="none" stroke="#67789a" stroke-width="0.45"/>
<path d="M353,209 L361,209 L359.5,240 L355,275 L347.5,275 L352,240 Z" fill="#fbe3d2"/>
<path d="M353.7,209 L352.7,240 L348.3,275" fill="none" stroke="#ee9e66" stroke-width="0.35"/>
<path d="M354.9,209 L353.9,240 L349.5,275" fill="none" stroke="#ee9e66" stroke-width="0.35"/>
<path d="M356.09999999999997,209 L355.09999999999997,240 L350.7,275" fill="none" stroke="#ee9e66" stroke-width="0.35"/>
<path d="M357.3,209 L356.3,240 L351.90000000000003,275" fill="none" stroke="#ee9e66" stroke-width="0.35"/>
<path d="M358.5,209 L357.5,240 L353.1,275" fill="none" stroke="#ee9e66" stroke-width="0.35"/>
<path d="M359.59999999999997,209 L358.59999999999997,240 L354.2,275" fill="none" stroke="#ee9e66" stroke-width="0.35"/>
<path d="M360.59999999999997,209 L359.59999999999997,240 L355.2,275" fill="none" stroke="#ee9e66" stroke-width="0.35"/>
<path d="M332.5,202 L335.1,209 L329.9,209 Z" fill="#a7b5d2" stroke="#6a7ba0" stroke-width="0.35"/>
<line x1="332.5" y1="199" x2="332.5" y2="203" stroke="#7c8db0" stroke-width="0.5"/>
<path d="M335.8,199.5 L338.2,209.5 L333.40000000000003,209.5 Z" fill="#a7b5d2" stroke="#6a7ba0" stroke-width="0.35"/>
<line x1="335.8" y1="196.5" x2="335.8" y2="200.5" stroke="#7c8db0" stroke-width="0.5"/>
<path d="M339,200.5 L341.4,209 L336.6,209 Z" fill="#a7b5d2" stroke="#6a7ba0" stroke-width="0.35"/>
<line x1="339" y1="197.5" x2="339" y2="201.5" stroke="#7c8db0" stroke-width="0.5"/>
<path d="M342,203 L344.6,211 L339.4,211 Z" fill="#2f8c55" stroke="#1d6a40" stroke-width="0.35"/>
<path d="M348.5,199.5 L351.3,208.5 L345.7,208.5 Z" fill="#2f8c55" stroke="#1d6a40" stroke-width="0.35"/>
<path d="M346.5,205.5 L349.1,213.5 L343.9,213.5 Z" fill="#2f8c55" stroke="#1d6a40" stroke-width="0.35"/>
<path d="M343,211 L347,214 L350,211" fill="none" stroke="#cfe5d6" stroke-width="0.5"/>
<path d="M354.2,203.0 L357.0,212 L351.4,212 Z" fill="#f6b689" stroke="#e88a4a" stroke-width="0.35"/>
<line x1="354.2" y1="200.5" x2="354.2" y2="203.5" stroke="#ee9e66" stroke-width="0.5"/>
<path d="M357.8,204.0 L360.6,212.5 L355.0,212.5 Z" fill="#f6b689" stroke="#e88a4a" stroke-width="0.35"/>
<line x1="357.8" y1="201.5" x2="357.8" y2="204.5" stroke="#ee9e66" stroke-width="0.5"/>
<circle cx="307.8" cy="239.4" r="5.0" fill="#fff" stroke="#333" stroke-width="0.75"/>
<text x="307.8" y="240.9" font-size="3.9" fill="#222" font-weight="bold" text-anchor="middle" font-style="normal" >IC</text>
<circle cx="336.5" cy="239.4" r="5.0" fill="#fff" stroke="#333" stroke-width="0.75"/>
<text x="336.5" y="240.9" font-size="3.9" fill="#222" font-weight="bold" text-anchor="middle" font-style="normal" >IC</text>
<circle cx="353.2" cy="239.4" r="5.0" fill="#fff" stroke="#333" stroke-width="0.75"/>
<text x="353.2" y="240.9" font-size="3.9" fill="#222" font-weight="bold" text-anchor="middle" font-style="normal" >IC</text>
<text x="249.8" y="241.5" font-size="3.6" fill="#111" font-weight="normal" text-anchor="middle" font-style="normal" >Ipsilateral</text>
<text x="250.2" y="245.5" font-size="3.6" fill="#111" font-weight="normal" text-anchor="middle" font-style="normal" >Acoustic</text>
<text x="249.9" y="249.6" font-size="3.6" fill="#111" font-weight="normal" text-anchor="middle" font-style="normal" >Stimulation</text>
<text x="277.0" y="247.6" font-size="3.65" fill="#111" font-weight="normal" text-anchor="middle" font-style="normal" >Right</text>
<text x="277.0" y="251.8" font-size="3.65" fill="#111" font-weight="normal" text-anchor="middle" font-style="normal" >Cochlea</text>
<rect x="238.6" y="253.6" width="5.6" height="14.4" fill="#243f66"/>
<rect x="244" y="256.6" width="4.2" height="7.8" fill="#243f66"/>
<line x1="241" y1="254" x2="241" y2="267.6" stroke="#3c5a85" stroke-width="0.5"/>
<path d="M253.4,256 q-1.6,4.6 0,9.2" fill="none" stroke="#c5c9d0" stroke-width="0.7"/>
<path d="M255.6,256 q-1.6,4.6 0,9.2" fill="none" stroke="#c5c9d0" stroke-width="0.7"/>
<path d="M257.8,256 q-1.6,4.6 0,9.2" fill="none" stroke="#c5c9d0" stroke-width="0.7"/>
<path d="M264,265 C266,268.5 272,269 279.2,268.4 C280,266.5 279,264 276.5,263.2 Z" fill="#e8731f" stroke="#2b1a0c" stroke-width="0.8" stroke-linejoin="round"/>
<circle cx="268.6" cy="260.6" r="7.3" fill="#e8731f" stroke="#2b1a0c" stroke-width="0.8"/>
<polyline points="268.2,260.9 268.1,261.0 268.0,261.0 267.9,260.9 267.8,260.9 267.7,260.8 267.6,260.8 267.5,260.7 267.4,260.6 267.3,260.5 267.3,260.3 267.3,260.2 267.2,260.1 267.2,259.9 267.3,259.7 267.3,259.6 267.4,259.4 267.5,259.3 267.6,259.1 267.7,259.0 267.9,258.9 268.0,258.8 268.2,258.7 268.4,258.6 268.6,258.6 268.9,258.6 269.1,258.6 269.3,258.7 269.6,258.7 269.8,258.8 270.0,259.0 270.2,259.2 270.4,259.4 270.5,259.6 270.7,259.8 270.8,260.1 270.8,260.4 270.9,260.7 270.9,261.0 270.8,261.3 270.8,261.6 270.7,261.9 270.5,262.2 270.3,262.4 270.1,262.7 269.8,262.9 269.5,263.1 269.2,263.3 268.9,263.4 268.5,263.5 268.1,263.5 267.8,263.5 267.4,263.5 267.0,263.4 266.6,263.3 266.3,263.1 265.9,262.8 265.6,262.6 265.3,262.2 265.1,261.9 264.9,261.5 264.7,261.1 264.6,260.7 264.6,260.2 264.6,259.7 264.6,259.3 264.8,258.8 264.9,258.4 265.1,257.9 265.4,257.5 265.7,257.2 266.1,256.8 266.5,256.5 267.0,256.3 267.5,256.1 268.0,256.0 268.5,255.9 269.0,255.9 269.6,256.0 270.1,256.1 270.6,256.3 271.1,256.5 271.6,256.9 272.1,257.2 272.4,257.6 272.8,258.1 273.1,258.6 273.3,259.2 273.5,259.8 273.5,260.4 273.6,261.0" fill="none" stroke="#2b1a0c" stroke-width="1.15" stroke-linecap="round"/>
<path d="M383,266.5 C381,270 375,270.6 366.8,270 C366,268 367,265.5 369.5,264.7 Z" fill="#e8731f" stroke="#2b1a0c" stroke-width="0.8" stroke-linejoin="round"/>
<circle cx="377.6" cy="262.2" r="7.3" fill="#e8731f" stroke="#2b1a0c" stroke-width="0.8"/>
<polyline points="378.0,262.5 378.1,262.6 378.2,262.6 378.3,262.5 378.4,262.5 378.5,262.4 378.6,262.4 378.7,262.3 378.8,262.2 378.9,262.1 378.9,261.9 378.9,261.8 379.0,261.7 379.0,261.5 378.9,261.3 378.9,261.2 378.8,261.0 378.7,260.9 378.6,260.7 378.5,260.6 378.3,260.5 378.2,260.4 378.0,260.3 377.8,260.2 377.6,260.2 377.3,260.2 377.1,260.2 376.9,260.3 376.6,260.3 376.4,260.4 376.2,260.6 376.0,260.8 375.8,261.0 375.7,261.2 375.5,261.4 375.4,261.7 375.4,262.0 375.3,262.3 375.3,262.6 375.4,262.9 375.4,263.2 375.5,263.5 375.7,263.8 375.9,264.0 376.1,264.3 376.4,264.5 376.7,264.7 377.0,264.9 377.3,265.0 377.7,265.1 378.1,265.1 378.4,265.1 378.8,265.1 379.2,265.0 379.6,264.9 379.9,264.7 380.3,264.4 380.6,264.2 380.9,263.8 381.1,263.5 381.3,263.1 381.5,262.7 381.6,262.3 381.6,261.8 381.6,261.3 381.6,260.9 381.4,260.4 381.3,260.0 381.1,259.5 380.8,259.1 380.5,258.8 380.1,258.4 379.7,258.1 379.2,257.9 378.7,257.7 378.2,257.6 377.7,257.5 377.2,257.5 376.6,257.6 376.1,257.7 375.6,257.9 375.1,258.1 374.6,258.5 374.1,258.8 373.8,259.2 373.4,259.7 373.1,260.2 372.9,260.8 372.7,261.4 372.7,262.0 372.6,262.6" fill="none" stroke="#2b1a0c" stroke-width="1.15" stroke-linecap="round"/>
<text x="396.6" y="243.1" font-size="3.6" fill="#111" font-weight="normal" text-anchor="middle" font-style="normal" >Contralateral</text>
<text x="396.6" y="247.1" font-size="3.6" fill="#111" font-weight="normal" text-anchor="middle" font-style="normal" >Acoustic</text>
<text x="396.6" y="251.3" font-size="3.6" fill="#111" font-weight="normal" text-anchor="middle" font-style="normal" >Stimulation</text>
<text x="370.1" y="249.1" font-size="3.55" fill="#111" font-weight="normal" text-anchor="middle" font-style="normal" >Left</text>
<text x="370.1" y="253.0" font-size="3.55" fill="#111" font-weight="normal" text-anchor="middle" font-style="normal" >Cochlea</text>
<rect x="399.6" y="254.9" width="7.4" height="14.6" fill="#e8731f"/>
<rect x="396" y="259.1" width="3.8" height="7.4" fill="#e8731f"/>
<line x1="404.6" y1="255.2" x2="404.6" y2="269.2" stroke="#f09a55" stroke-width="0.5"/>
<path d="M387.5,258 q-1.6,4.6 0,9.2" fill="none" stroke="#b9c4d6" stroke-width="0.7" stroke-dasharray="0.8,0.6"/>
<path d="M389.9,258 q-1.6,4.6 0,9.2" fill="none" stroke="#b9c4d6" stroke-width="0.7" stroke-dasharray="0.8,0.6"/>
<path d="M392.3,258 q-1.6,4.6 0,9.2" fill="none" stroke="#b9c4d6" stroke-width="0.7" stroke-dasharray="0.8,0.6"/>
<path d="M276.4,279.5 C276.6,284 276.9,289 277.5,293 C278.5,297.5 279.8,300 281.2,302.5 C283,305.5 285,308.5 287.5,311 C290,313 292.5,314 296.8,315.2 C301,316.8 305,317.8 309,318.5 C311,319.5 312.5,322.8 314.2,323.4 C315.6,323.8 316.5,319.6 318.7,319.3 C321,319.1 322,323.5 324,323.8 C326.5,324 329.5,321.8 333,319.6 C336,317.6 338.5,315 340.8,313.2 C343,312 345,311.5 346.7,310.3 C349.5,308.5 351.5,307.5 352.5,305.9 C354.5,303 356.2,300 356.9,297.1 C358,294 358.4,291 358.4,288.4 C358.3,285.5 358,283.5 357.6,281.8" fill="none" stroke="#222" stroke-width="1.0"/>
<path d="M309.8,264 C313,266.8 316,268.3 319.5,268.3 C323,268.3 326.5,266.8 329.9,264" fill="none" stroke="#333" stroke-width="0.9"/>
<line x1="319.6" y1="271.5" x2="319.6" y2="309.5" stroke="#999" stroke-width="0.7" stroke-dasharray="0.8,0.9"/>
<path d="M276,266.5 C285,268.8 295,270.8 306,271.2 C315,271.4 322,270.5 326.5,271.5 C330,273 330.2,277 329.5,281 C328.5,285.5 326,289 325.5,293 C325,296.5 326,299 327.3,300.5" fill="none" stroke="#2f4a6d" stroke-width="0.9"/>
<path d="M269.9,272 C272.5,273 275,274.5 278.6,278.1 M281.2,286.8 C282,291 282.5,294 283.5,297 C285,301 286.5,304 289,306.5 C292,309 296,311 305,312.2 C310,312.6 314,312.3 318.8,312.2 C325,312 331,310.5 337.1,306.3 C339,304.8 340,303 340.7,301.5" fill="none" stroke="#2f4a6d" stroke-width="0.9"/>
<path d="M277.5,268 C287,270.5 296,271 300.5,272.5 C304.5,274.5 306.1,277 306.1,281 L306.1,297" fill="none" stroke="#e9a56b" stroke-width="0.9"/>
<path d="M284,272.5 C292,275 298,276 300.5,278 C302,280.5 302,285 302,296.5" fill="none" stroke="#f0b585" stroke-width="0.7"/>
<path d="M307.8,307.6 C309,310.5 311,312.4 314,312.6 C320,313 328,313 335,311.7 C338,311 340,309.5 342.3,307.3 C345,305 347,303.5 348.1,301.5 C349.5,299 350.5,296.5 351,294.2 C351.8,291.5 352.3,289 352.5,286.9" fill="none" stroke="#ec9a5a" stroke-width="0.9"/>
<path d="M368,269 C363,272.5 358,277 354.1,282" fill="none" stroke="#e8762a" stroke-width="0.8"/>
<path d="M275,269.9 C283.7,272.5 290,274 292.5,275.1 C295.5,276.5 297,280 297.3,283 L297,290.5" fill="none" stroke="#3f9a80" stroke-width="0.9"/>
<path d="M278,278.5 C279,276 283,275.5 285.5,276.8 C287.5,278 287.2,280.5 286.5,282.5 C285.8,284.5 283.8,286 281.5,285.6 C279.5,285.3 278.3,284 278.3,282.5 C277.5,281 277.5,279.8 278,278.5 Z" fill="#9ccae8" stroke="#2f4a6d" stroke-width="0.6"/>
<path d="M292.5,292 C293.5,289.5 297,289 299,290.5 C301.5,290 303.5,292.5 303,295.5 C302.8,298.5 300.5,300.5 297.5,300.2 C294.5,300 292,298 292,295.5 Z" fill="#2e8b4f" stroke="#1e6b3a" stroke-width="0.5"/>
<circle cx="296" cy="294" r="1.4" fill="#1e6b3a"/>
<circle cx="299.6" cy="296" r="1.4" fill="#1e6b3a"/>
<path d="M300.8,301 C301.5,298.5 305,297.8 308,298.2 C311,298.5 312.8,300.5 312.2,303 C311.5,305.5 309,307.2 306,307.3 C303,307.3 300.8,305.5 300.8,303.5 Z" fill="#f8cda6" stroke="#e9975a" stroke-width="0.6"/>
<path d="M303,301.5 C305,300.3 308,300.3 310,301.5" fill="none" stroke="#e9975a" stroke-width="0.5"/>
<path d="M346,277.5 C347,274.5 351,273.5 353.5,274.5 C355.5,275.5 355.8,278.5 355,281 C354.2,283.5 352,285.6 349.5,285.6 C347.2,285.6 345.8,283.5 345.8,281 Z" fill="#f8cda6" stroke="#e9975a" stroke-width="0.6"/>
<path d="M327.5,300.5 C328.5,297.5 333,296.6 336.5,297.5 C339.3,298.3 340,301 339,303.5 C338,305.5 335,306.4 332,306.2 C329,306 327,303.5 327.5,300.5 Z" fill="#9ccae8" stroke="#2f4a6d" stroke-width="0.6"/>
<path d="M330,301 L337,301.5" stroke="#2f4a6d" stroke-width="0.5"/>
<text x="290.5" y="264.4" font-size="2.9" fill="#3a5a88" font-weight="normal" text-anchor="middle" font-style="normal" >Efferent</text>
<text x="290.5" y="267.2" font-size="2.9" fill="#3a5a88" font-weight="normal" text-anchor="middle" font-style="normal" >MOC fibers</text>
<text x="291.3" y="285.6" font-size="2.6" fill="#3a9a8a" font-weight="normal" text-anchor="middle" font-style="normal" >LOC</text>
<text x="291.3" y="288.3" font-size="2.6" fill="#3a9a8a" font-weight="normal" text-anchor="middle" font-style="normal" >fibers</text>
<text x="314.5" y="291.5" font-size="2.6" fill="#e9975a" font-weight="normal" text-anchor="middle" font-style="normal" >Contralateral</text>
<text x="314.5" y="294.3" font-size="2.6" fill="#e9975a" font-weight="normal" text-anchor="middle" font-style="normal" >MOC fibers</text>
<text x="267.3" y="276.6" font-size="2.8" fill="#333" font-weight="normal" text-anchor="middle" font-style="normal" >HC</text>
<text x="366.4" y="277.0" font-size="2.8" fill="#333" font-weight="normal" text-anchor="middle" font-style="normal" >HC</text>
<text x="344.5" y="273.4" font-size="2.6" fill="#333" font-weight="normal" text-anchor="middle" font-style="normal" >SOC</text>
<text x="320.4" y="334.9" font-size="6.1" fill="#222" font-weight="normal" text-anchor="middle" font-style="normal" >Brainstem</text>
</svg></body></html>
